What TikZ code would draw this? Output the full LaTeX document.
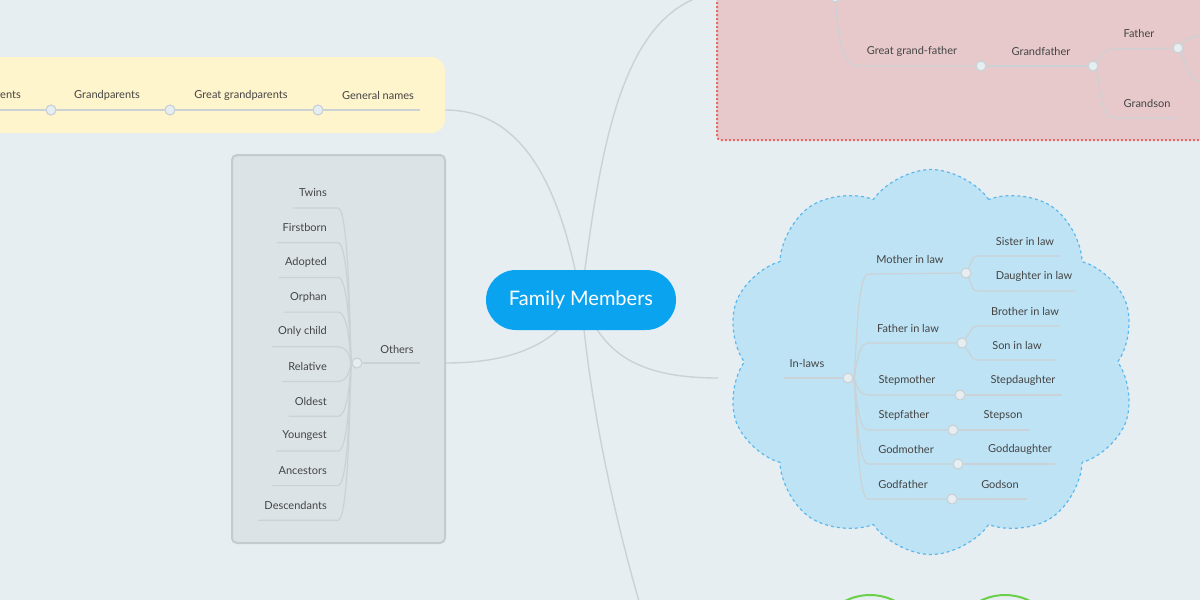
\documentclass[tikz,border=0pt]{standalone}
\usepackage{fontspec}
\setmainfont{Lato}
\usetikzlibrary{shapes.symbols}
\definecolor{bg}{HTML}{E6EEF2}
\definecolor{ln}{HTML}{CBD2D6}
\definecolor{tx}{HTML}{444444}
\definecolor{cblue}{HTML}{0AA3F0}
\definecolor{yel}{HTML}{FFF5CC}
\definecolor{gbox}{HTML}{DCE3E7}
\definecolor{gbd}{HTML}{C4CACE}
\definecolor{rbox}{HTML}{E8C9CB}
\definecolor{rbd}{HTML}{E86A6A}
\definecolor{cl}{HTML}{BEE3F5}
\definecolor{clb}{HTML}{5BB8EE}
\definecolor{grn}{HTML}{6AD04A}
\begin{document}
\begin{tikzpicture}[x=1pt,y=-1pt,
 lbl/.style={font=\fontsize{11}{13}\selectfont,text=tx,inner sep=0pt},
 dot/.style={circle,fill=bg,draw=ln,line width=1.2pt,minimum size=10pt,inner sep=0pt},
 con/.style={draw=ln,line width=1.4pt},
 br/.style={draw=ln,line width=1.2pt}]
\useasboundingbox (0,0) rectangle (1200,600);
\fill[bg] (0,0) rectangle (1200,600);
% main connectors
\coordinate (c) at (581,300);
\path[con] (c) .. controls (560,180) and (520,110) .. (445,110);
\path[con] (c) .. controls (560,340) and (520,363) .. (445,363);
\path[con] (c) .. controls (600,150) and (620,20) .. (705,-5);
\path[con] (c) .. controls (600,340) and (620,378) .. (718,378);
\path[con] (c) .. controls (590,400) and (610,500) .. (640,605);
% yellow box
\fill[yel,rounded corners=14pt] (-20,57) rectangle (445,133);
\path[br] (0,110) -- (420,110);
\node[dot] (y1) at (51,110) {}; \node[dot] (y2) at (170,110) {}; \node[dot] (y3) at (318,110) {};
\node[lbl,anchor=east] at (21,95) {Parents};
\node[lbl] at (107,95) {Grandparents};
\node[lbl] at (241,95) {Great grandparents};
\node[lbl] at (378,95) {General names};
% gray box
\filldraw[fill=gbox,draw=gbd,line width=2pt,rounded corners=5pt] (232,155) rectangle (445,543);
\node[dot] (oth) at (357,363) {};
\path[br] (oth) -- (420,363);
\node[lbl] at (397,349) {Others};
\foreach \t [count=\i from 0] in {Twins,Firstborn,Adopted,Orphan,Only child,Relative,Oldest,Youngest,Ancestors,Descendants}{
  \pgfmathsetmacro\ly{208+34.7*\i}
  \node[lbl,anchor=east] (o\i) at (327,\ly-15) {\t};
  \path[br] (oth.west) .. controls (350,363) and (350,\ly) .. (338,\ly) -- ([xshift=-6pt]o\i.west |- 0,\ly);
}
% red box
\filldraw[fill=rbox,draw=rbd,line width=2pt,dotted,rounded corners=4pt] (717,-10) rectangle (1215,140);
\node[dot] (r0) at (835,-3) {};
\node[dot] (r1) at (981,66) {};
\node[dot] (r2) at (1093,66) {};
\node[dot] (r3) at (1178,48) {};
\path[br] (r0) .. controls (838,30) and (840,66) .. (858,66) -- (r1);
\path[br] (r1) -- (r2);
\path[br] (r2) .. controls (1100,60) and (1100,49) .. (1115,49) -- (r3);
\path[br] (r2) .. controls (1100,75) and (1098,118) .. (1115,118) -- (1177,118);
\path[br] (r3) .. controls (1185,40) and (1190,36) .. (1205,36);
\path[br] (r3) .. controls (1185,58) and (1185,80) .. (1205,84);
\node[lbl] at (912,51) {Great grand-father};
\node[lbl] at (1041,51) {Grandfather};
\node[lbl] at (1139,33) {Father};
\node[lbl] at (1147,103) {Grandson};
% cloud
\node[cloud,cloud puffs=10,cloud puff arc=110,aspect=1.1,minimum width=410pt,minimum height=385pt,fill=cl,draw=clb,line width=1.2pt,dashed] (cld) at (931,362) {};
\node[lbl] at (807,363) {In-laws};
\node[dot] (il) at (848,378) {};
\path[br] (784,378) -- (il);
\foreach \lab/\lx/\ly/\cx/\cy in {Mother in law/910/274/966/273, Father in law/908/343/962/343, Stepmother/907/395/960/395, Stepfather/904/430/953/430, Godmother/906/464/958/464, Godfather/903/499/952/499}{
  \node[dot] (d\lab) at (\cx,\cy) {};
  \path[br] (il) .. controls (856,378) and (856,\ly) .. (868,\ly) -- (d\lab);
  \node[lbl] at (\lx,\ly-15) {\lab};
}
\foreach \p/\lab/\lx/\ly/\le in {Mother in law/Sister in law/1025/256/1060, Mother in law/Daughter in law/1034/291/1075, Father in law/Brother in law/1025/326/1060, Father in law/Son in law/1017/360/1055}{
  \path[br] (d\p) .. controls (975,\ly/2+\ly/2) and (970,\ly) .. (985,\ly) -- (\le,\ly);
  \node[lbl] at (\lx,\ly-15) {\lab};
}
\foreach \p/\lab/\lx/\ly/\le in {Stepmother/Stepdaughter/1023/395/1062, Stepfather/Stepson/1003/430/1030, Godmother/Goddaughter/1020/464/1055, Godfather/Godson/1000/499/1027}{
  \path[br] (d\p) -- (\le,\ly);
  \node[lbl] at (\lx,\ly-15) {\lab};
}
% green circles
\draw[grn,line width=2pt] (870,650) circle (55);
\draw[grn,line width=2pt] (1005,650) circle (55);
% central node
\node[fill=cblue,rounded corners=30pt,minimum width=190pt,minimum height=60pt,text=white,font=\fontsize{20}{24}\selectfont] (fm) at (c) {Family Members};
\end{tikzpicture}
\end{document}
